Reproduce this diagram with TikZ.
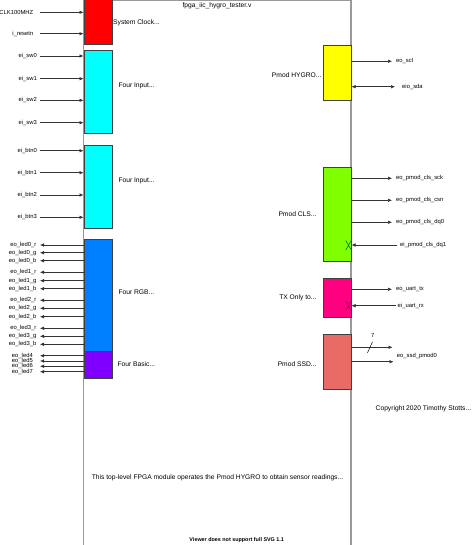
\documentclass[tikz,border=0pt]{standalone}
\usepackage{fontspec}
\setmainfont{Liberation Sans}
\usetikzlibrary{arrows.meta,shapes.misc}

\definecolor{clkred}{HTML}{FF0000}
\definecolor{inpcyan}{HTML}{00FFFF}
\definecolor{rgbblue}{HTML}{0080FF}
\definecolor{ledpurple}{HTML}{8000FF}
\definecolor{hygyellow}{HTML}{FFFF00}
\definecolor{clsgreen}{HTML}{80FF00}
\definecolor{uartpink}{HTML}{FF0080}
\definecolor{ssdsalmon}{HTML}{EA6B66}
\definecolor{modgray}{HTML}{999999}

\begin{document}
\begin{tikzpicture}[x=1pt, y=-1pt,
		blk/.style={draw=black!75, line width=0.5pt, minimum width=28pt, inner sep=0pt, anchor=north west},
		txt/.style={font=\fontsize{6.7}{7}\selectfont, inner sep=0.5pt},
		lbl/.style={font=\fontsize{5.85}{6}\selectfont, inner ysep=0pt},
		llbl/.style={lbl, anchor=east, inner xsep=2.5pt},
		rlbl/.style={lbl, anchor=west, inner xsep=4pt},
		sig/.style={-{Latex[length=4pt,width=3.5pt]}, line width=0.5pt, black!80},
		xmark/.style={cross out, draw, line width=0.6pt, minimum width=5pt, minimum height=9pt, inner sep=0pt}]
	\useasboundingbox ( 0, 0 ) rectangle ( 474, 545 );
	% module outline
	\draw [modgray, line width=1.3pt] ( 83.5, 0.5 ) rectangle ( 351, 560 );
	\node [txt] (title) at ( 217, 6 ) {fpga\_iic\_hygro\_tester.v};
	% left blocks
	\node [blk, fill=clkred, minimum height=46] (clk) at ( 83.5, -1.5 ) {};
	\node [blk, fill=inpcyan, minimum height=83.3] (sw) at ( 83.5, 50 ) {};
	\node [blk, fill=inpcyan, minimum height=83.3] (btn) at ( 83.5, 145 ) {};
	\node [blk, fill=rgbblue, minimum height=111.7] (rgb) at ( 83.5, 239 ) {};
	\node [blk, fill=ledpurple, minimum height=27.6] (basic) at ( 83.5, 350.7 ) {};
	\node [txt, anchor=west] at ( 112.5, 22.3 ) {System Clock...};
	\node [txt, anchor=west] at ( 117.8, 86 ) {Four Input...};
	\node [txt, anchor=west] at ( 117.8, 180.7 ) {Four Input...};
	\node [txt, anchor=west] at ( 117.8, 291.7 ) {Four RGB...};
	\node [txt, anchor=west] at ( 116.8, 364 ) {Four Basic...};
	% right blocks
	\node [blk, fill=hygyellow, minimum height=55] (hygro) at ( 323, 45 ) {};
	\node [blk, fill=clsgreen, minimum height=94] (cls) at ( 323, 167.3 ) {};
	\node [blk, fill=uartpink, minimum height=39] (uart) at ( 323, 278.3 ) {};
	\node [blk, fill=ssdsalmon, minimum height=55.3] (ssd) at ( 323, 334 ) {};
	\node [txt, anchor=east] at ( 322.2, 74.7 ) {Pmod HYGRO...};
	\node [txt, anchor=east] at ( 317.2, 214 ) {Pmod CLS...};
	\node [txt, anchor=east] at ( 317.2, 297.3 ) {TX Only to...};
	\node [txt, anchor=east] at ( 317.2, 364 ) {Pmod SSD...};
	% clock and reset
	\node [llbl, inner xsep=6.5pt] (clkin) at ( 40, 12.3 ) {CLK100MHZ};
	\node [llbl, inner xsep=6.5pt] (rstn) at ( 40, 33.7 ) {i\_resetn};
	\draw [sig] (clkin.east) -- (clkin.east -| clk.west);
	\draw [sig] (rstn.east) -- (rstn.east -| clk.west);
	% switches
	\node [llbl] (sw0) at ( 39.5, 56 ) {ei\_sw0};
	\node [llbl] (sw1) at ( 39.5, 78.7 ) {ei\_sw1};
	\node [llbl] (sw2) at ( 39.5, 100.3 ) {ei\_sw2};
	\node [llbl] (sw3) at ( 39.5, 122.7 ) {ei\_sw3};
	\draw [sig] (sw0.east) -- (sw0.east -| sw.west);
	\draw [sig] (sw1.east) -- (sw1.east -| sw.west);
	\draw [sig] (sw2.east) -- (sw2.east -| sw.west);
	\draw [sig] (sw3.east) -- (sw3.east -| sw.west);
	% buttons
	\node [llbl] (btn0) at ( 39.5, 150.7 ) {ei\_btn0};
	\node [llbl] (btn1) at ( 39.5, 172.7 ) {ei\_btn1};
	\node [llbl] (btn2) at ( 39.5, 195 ) {ei\_btn2};
	\node [llbl] (btn3) at ( 39.5, 217.3 ) {ei\_btn3};
	\draw [sig] (btn0.east) -- (btn0.east -| btn.west);
	\draw [sig] (btn1.east) -- (btn1.east -| btn.west);
	\draw [sig] (btn2.east) -- (btn2.east -| btn.west);
	\draw [sig] (btn3.east) -- (btn3.east -| btn.west);
	% rgb leds
	\node [llbl, inner xsep=3.5pt] (led0r) at ( 40, 245 ) {eo\_led0\_r};
	\node [llbl, inner xsep=3.5pt] (led0g) at ( 40, 252.7 ) {eo\_led0\_g};
	\node [llbl, inner xsep=3.5pt] (led0b) at ( 40, 260.7 ) {eo\_led0\_b};
	\node [llbl, inner xsep=3.5pt] (led1r) at ( 40, 272.3 ) {eo\_led1\_r};
	\node [llbl, inner xsep=3.5pt] (led1g) at ( 40, 280.7 ) {eo\_led1\_g};
	\node [llbl, inner xsep=3.5pt] (led1b) at ( 40, 288.7 ) {eo\_led1\_b};
	\node [llbl, inner xsep=3.5pt] (led2r) at ( 40, 300.3 ) {eo\_led2\_r};
	\node [llbl, inner xsep=3.5pt] (led2g) at ( 40, 308.3 ) {eo\_led2\_g};
	\node [llbl, inner xsep=3.5pt] (led2b) at ( 40, 316.7 ) {eo\_led2\_b};
	\node [llbl, inner xsep=3.5pt] (led3r) at ( 40, 328.3 ) {eo\_led3\_r};
	\node [llbl, inner xsep=3.5pt] (led3g) at ( 40, 336.3 ) {eo\_led3\_g};
	\node [llbl, inner xsep=3.5pt] (led3b) at ( 40, 344.3 ) {eo\_led3\_b};
	\draw [sig] (led0r.east -| rgb.west) -- (led0r.east);
	\draw [sig] (led0g.east -| rgb.west) -- (led0g.east);
	\draw [sig] (led0b.east -| rgb.west) -- (led0b.east);
	\draw [sig] (led1r.east -| rgb.west) -- (led1r.east);
	\draw [sig] (led1g.east -| rgb.west) -- (led1g.east);
	\draw [sig] (led1b.east -| rgb.west) -- (led1b.east);
	\draw [sig] (led2r.east -| rgb.west) -- (led2r.east);
	\draw [sig] (led2g.east -| rgb.west) -- (led2g.east);
	\draw [sig] (led2b.east -| rgb.west) -- (led2b.east);
	\draw [sig] (led3r.east -| rgb.west) -- (led3r.east);
	\draw [sig] (led3g.east -| rgb.west) -- (led3g.east);
	\draw [sig] (led3b.east -| rgb.west) -- (led3b.east);
	% basic leds
	\node [llbl, inner xsep=7pt] (led4) at ( 40, 355.7 ) {eo\_led4};
	\node [llbl, inner xsep=7pt] (led5) at ( 40, 361 ) {eo\_led5};
	\node [llbl, inner xsep=7pt] (led6) at ( 40, 366.3 ) {eo\_led6};
	\node [llbl, inner xsep=7pt] (led7) at ( 40, 371.7 ) {eo\_led7};
	\draw [sig] (led4.east -| basic.west) -- (led4.east);
	\draw [sig] (led5.east -| basic.west) -- (led5.east);
	\draw [sig] (led6.east -| basic.west) -- (led6.east);
	\draw [sig] (led7.east -| basic.west) -- (led7.east);
	% hygro i2c
	\node [rlbl] (scl) at ( 392, 61.3 ) {eo\_scl};
	\node [rlbl, inner xsep=7pt] (sda) at ( 395, 86.7 ) {eio\_sda};
	\draw [sig] (scl.west -| hygro.east) -- (scl.west);
	\draw [sig, {Latex[length=4pt,width=3.5pt]}-{Latex[length=4pt,width=3.5pt]}] (sda.west -| hygro.east) -- (sda.west);
	% cls spi
	\node [rlbl] (sck) at ( 392, 178.3 ) {eo\_pmod\_cls\_sck};
	\node [rlbl] (csn) at ( 392, 200.3 ) {eo\_pmod\_cls\_csn};
	\node [rlbl] (dq0) at ( 392, 222.3 ) {eo\_pmod\_cls\_dq0};
	\node [rlbl, inner xsep=3.5pt] (dq1) at ( 396.5, 245 ) {ei\_pmod\_cls\_dq1};
	\draw [sig] (sck.west -| cls.east) -- (sck.west);
	\draw [sig] (csn.west -| cls.east) -- (csn.west);
	\draw [sig] (dq0.west -| cls.east) -- (dq0.west);
	\draw [sig] (dq1.west) -- (dq1.west -| cls.east);
	\node [xmark, draw=green!50!black] (dq1x) at ( 348.5, 245.3 ) {};
	% uart
	\node [rlbl] (tx) at ( 392, 289.3 ) {eo\_uart\_tx};
	\node [rlbl, inner xsep=2pt] (rx) at ( 395.5, 305.7 ) {ei\_uart\_rx};
	\draw [sig] (tx.west -| uart.east) -- (tx.west);
	\draw [sig] (rx.west) -- (rx.west -| uart.east);
	\node [xmark, draw=uartpink!60!black] (rxx) at ( 348.5, 305.8 ) {};
	% ssd
	\coordinate (bus) at ( 392.5, 347.3 );
	\coordinate (pmod0) at ( 393.5, 361.7 );
	\draw [sig] (bus -| ssd.east) -- (bus);
	\draw [line width=0.5pt] ([shift={(-25,5.5)}]bus) -- ++( 5, -11 );
	\node [lbl] (buswidth) at ( 372.7, 335.7 ) {7};
	\draw [sig] (pmod0 -| ssd.east) -- (pmod0);
	\node [lbl, anchor=west, inner xsep=0pt] (ssdlbl) at ( 396.7, 356.3 ) {eo\_ssd\_pmod0};
	% notes
	\node [txt, anchor=west] (copy) at ( 375, 408.3 ) {Copyright 2020 Timothy Stotts...};
	\node [txt] (desc) at ( 217.5, 477.7 ) {This top-level FPGA module operates the Pmod HYGRO to obtain sensor readings...};
	\node [lbl, font=\fontsize{5.4}{6}\selectfont\bfseries] (viewer) at ( 236.7, 540 ) {Viewer does not support full SVG 1.1};
\end{tikzpicture}
\end{document}
